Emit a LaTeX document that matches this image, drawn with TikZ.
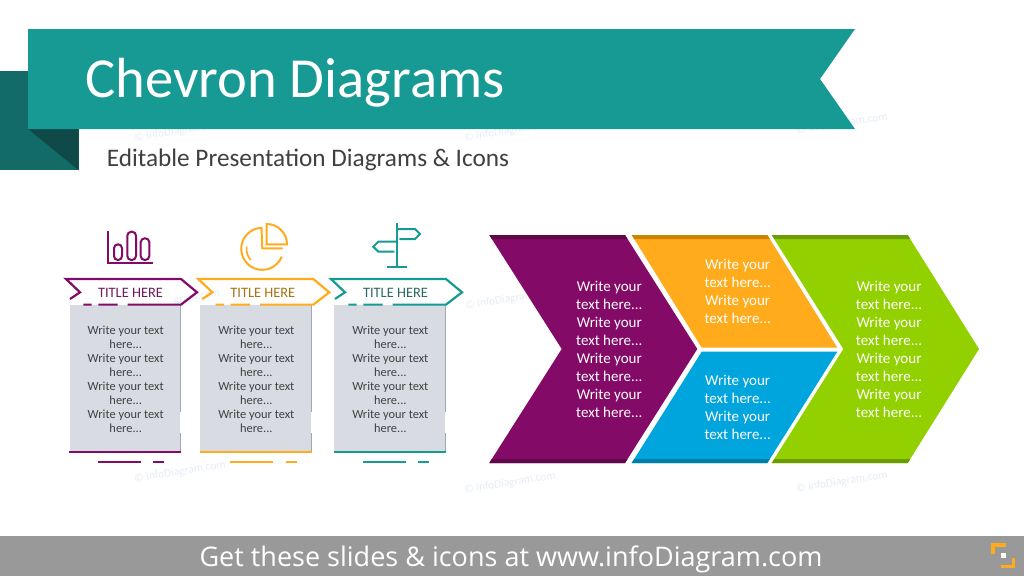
\documentclass[tikz,border=0pt]{standalone}
\usepackage{fontspec}
\setmainfont{Carlito}
\newfontfamily\footfont{Open Sans}
\definecolor{cTeal}{HTML}{169A93}
\definecolor{cFold}{HTML}{136B67}
\definecolor{cFoldDark}{HTML}{0F4A48}
\definecolor{cPurple}{HTML}{830A66}
\definecolor{cPurpleD}{HTML}{5E0749}
\definecolor{cOrange}{HTML}{FFAB1B}
\definecolor{cOrangeD}{HTML}{CC8400}
\definecolor{cBlue}{HTML}{00A5DE}
\definecolor{cBlueD}{HTML}{007EAA}
\definecolor{cGreen}{HTML}{92D000}
\definecolor{cGreenD}{HTML}{6C9C00}
\definecolor{cBox}{HTML}{D8DCE2}
\definecolor{cEdge}{HTML}{9AA9BA}
\definecolor{cMark}{HTML}{E6EDF6}
\definecolor{cInk}{HTML}{404040}
\definecolor{cFoot}{HTML}{999999}
\tikzset{
  iconline/.style={line width=2pt},
  tagline/.style={line width=2.2pt},
  bodytext/.style={font=\fontsize{12.4}{14.05}\selectfont,text=cInk,align=center,inner sep=0pt},
  tagtext/.style={font=\fontsize{14.4}{15}\selectfont,inner sep=0pt},
  arrowtext/.style={font=\fontsize{15}{18}\selectfont,text=white,align=center,inner sep=0pt},
  watermark/.style={font=\fontsize{11.5}{13}\selectfont,text=cMark,rotate=9,inner sep=0pt}
}
\newcommand{\fourlines}{Write your text\\here...\\Write your text\\here...\\Write your text\\here...\\Write your text\\here...}
\newcommand{\arrowfour}{Write your\\text here...\\Write your\\text here...}
% #1 name, #2 colour, #3 left x, #4 box offset, #5 title colour
\newcommand{\cardblock}[5]{%
\begin{scope}[shift={(#3,0)}]
  \fill[cBox] (#4,305) rectangle (#4+110.5,451.5);
  \draw[cEdge,line width=1.4pt] (#4+111,305) -- (#4+111,411.7) (#4+111,433.3) -- (#4+111,451.5);
  \draw[#2,tagline] (4,299) -- (14,292.3) -- (0,279) -- (115,279) -- (131,292.3) -- (115,304.6) -- (61.7,304.6)
        (51.7,304.6) -- (32.3,304.6) (25.7,304.6) -- (17.3,304.6);
  \draw[#2,tagline] (#4-0.7,452) -- (#4+111.5,452);
  \draw[#2,tagline] (31.7,462) -- (75,462) (87.3,462) -- (98.3,462);
  \node[tagtext,text=#5] (#1title) at (64.5,293) {TITLE HERE};
  \node[bodytext] (#1body) at (#4+56,379.4) {\fourlines};
\end{scope}}
\begin{document}
\begin{tikzpicture}[x=1pt,y=-1pt]
\useasboundingbox (0,0) rectangle (1024,576);
\fill[white] (0,0) rectangle (1024,576);
% watermarks
\node[watermark] (w1) at (180,131) {© infoDiagram.com};
\node[watermark] (w2) at (510,131) {© infoDiagram.com};
\node[watermark] (w3) at (842,124) {© infoDiagram.com};
\node[watermark] (w4) at (197,298) {gram.com};
\node[watermark] (w5) at (511,299) {© infoDiagram.com};
\node[watermark] (w6) at (180,472) {© infoDiagram.com};
\node[watermark] (w7) at (510,483) {© infoDiagram.com};
\node[watermark] (w8) at (842,482) {© infoDiagram.com};
% header
\fill[cFold] (0,71) rectangle (78.5,170);
\fill[cFoldDark] (28,129) -- (78.5,129) -- (78.5,170) -- cycle;
\fill[cTeal] (28,29) -- (855,29) -- (820,79) -- (855,129) -- (28,129) -- cycle;
\node[font=\fontsize{56.6}{62}\selectfont,text=white,inner sep=0pt] (maintitle) at (295,83) {Chevron Diagrams};
\node[font=\fontsize{25.25}{28}\selectfont,text=cInk,inner sep=0pt] (subtitle) at (308,160) {Editable Presentation Diagrams \& Icons};
% icons
\draw[cPurple,iconline] (108,230.7) -- (108,262.7) -- (153.3,262.7);
\draw[cPurple,iconline,rounded corners=3.9pt] (114,244.3) rectangle (122,260);
\draw[cPurple,iconline,rounded corners=4pt] (127.3,231.7) rectangle (136,260);
\draw[cPurple,iconline,rounded corners=4pt] (140.7,238.3) rectangle (149.3,260);
\draw[cOrange,iconline] (281.7,256.7) arc[start angle=-22,end angle=-268,radius=21pt] -- (262.3,248.3) -- (282.7,248.3);
\draw[cOrange,iconline] (266.7,224) arc[start angle=90,end angle=0,radius=20.3pt] -- (266.7,244.3) -- cycle;
\draw[cOrange,line width=1.6pt] (246.7,246.7) arc[start angle=172,end angle=222,radius=16.4pt];
\draw[cTeal,iconline] (396.7,223.3) -- (396.7,266.7) (386.7,266.7) -- (407.3,266.7);
\draw[cTeal,iconline] (396.7,229) -- (415,229) -- (420,234) -- (415,239) -- (399.3,239);
\draw[cTeal,iconline] (396.7,241.7) -- (378.3,241.7) -- (373.3,246.7) -- (378.3,251.7) -- (394.3,251.7);
% cards
\cardblock{a}{cPurple}{66}{3.7}{cPurple!70!cInk}
\cardblock{b}{cOrange}{198.3}{2}{cOrangeD!75!cInk}
\cardblock{c}{cTeal}{331}{3.3}{cTeal!45!cInk}
% big chevrons
\fill[cPurple] (489.3,235) -- (625,235) -- (697.3,349) -- (625,463) -- (489.3,463) -- (561.7,349) -- cycle;
\fill[cPurpleD] (489.3,235) -- (625,235) -- (627.5,239) -- (491.8,239) -- cycle;
\fill[cPurpleD] (489.3,463) -- (625,463) -- (627.5,459) -- (491.8,459) -- cycle;
\fill[cOrange] (631.7,235) -- (767.3,235) -- (837.3,347.7) -- (701.7,347.7) -- cycle;
\fill[cOrangeD] (631.7,235) -- (767.3,235) -- (769.8,239) -- (634.2,239) -- cycle;
\fill[cBlue] (701.7,351.7) -- (837.3,351.7) -- (767.3,463) -- (631.7,463) -- cycle;
\fill[cBlueD] (631.7,463) -- (767.3,463) -- (769.8,459) -- (634.2,459) -- cycle;
\fill[cGreen] (771.7,235) -- (907.7,235) -- (979,349) -- (907.7,463) -- (771.7,463) -- (843.3,349) -- cycle;
\fill[cGreenD] (771.7,235) -- (907.7,235) -- (910.2,239) -- (774.2,239) -- cycle;
\fill[cGreenD] (771.7,463) -- (907.7,463) -- (910.2,459) -- (774.2,459) -- cycle;
\node[arrowtext] (t1) at (609.3,349.8) {\arrowfour\\\arrowfour};
\node[arrowtext] (t2) at (737.7,291.8) {\arrowfour};
\node[arrowtext] (t3) at (737.7,407.8) {\arrowfour};
\node[arrowtext] (t4) at (889,349.8) {\arrowfour\\\arrowfour};
% footer
\fill[cFoot] (0,536) rectangle (1024,576);
\node[font=\footfont\fontsize{27}{30}\selectfont,text=white,inner sep=0pt] (foot) at (511,559) {Get these slides \& icons at www.infoDiagram.com};
\draw[cOrange,line width=3.5pt] (1005.7,545) -- (993,545) -- (993,553.5);
\draw[cOrange,line width=3.5pt] (1000.7,566.7) -- (1013.3,566.7) -- (1013.3,558.3);
\fill[white] (1000.5,553.2) rectangle (1005.5,558.2);
\end{tikzpicture}
\end{document}
